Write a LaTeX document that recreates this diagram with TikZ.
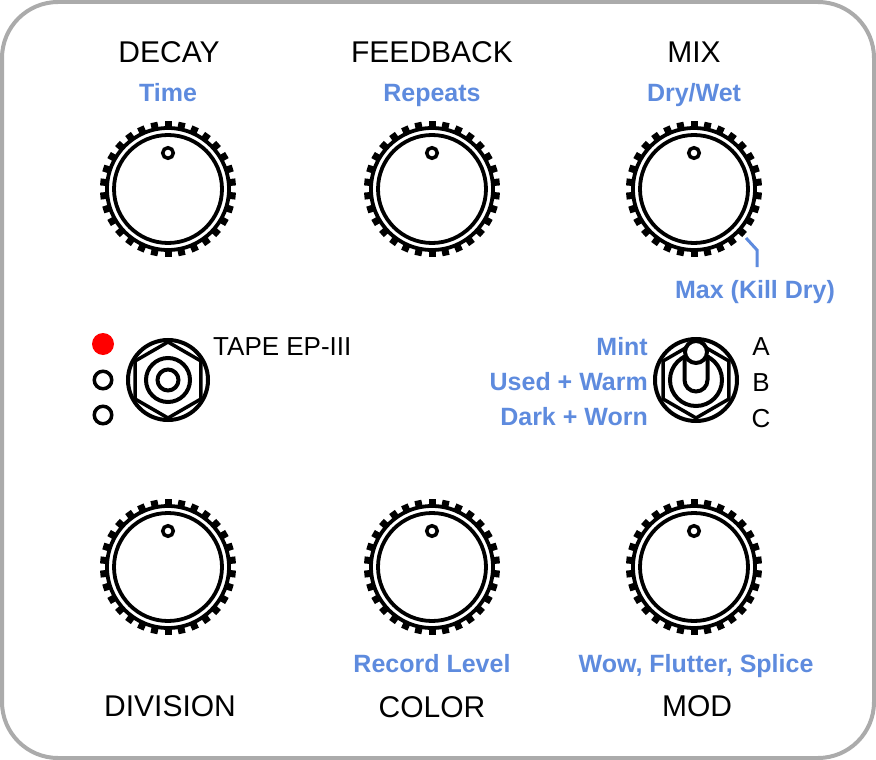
\documentclass[tikz,border=0pt]{standalone}
\usepackage{fontspec}
\setmainfont{Liberation Sans}
\newlength{\du}
\setlength{\du}{1pt}
\definecolor{panelgray}{RGB}{171,171,171}
\definecolor{labelblue}{RGB}{94,139,222}
\definecolor{ledred}{RGB}{255,0,0}
\tikzset{
  panelframe/.style={draw=panelgray, line width=4\du, rounded corners=56\du},
  knobring/.style={draw=black, line width=3.8\du},
  knobtooth/.style={draw=black, line width=7\du},
  knobdot/.style={draw=black, line width=3.5\du},
  partline/.style={draw=black, line width=4\du},
  hexnut/.style={draw=black, line width=3.5\du, line join=miter},
  ledon/.style={circle, fill=ledred, inner sep=0pt, minimum size=22\du},
  ledoff/.style={circle, draw=black, line width=3.5\du, inner sep=0pt, minimum size=17.5\du},
  namelabel/.style={inner sep=0pt, anchor=base, text=black, font=\fontsize{30}{32}\selectfont},
  sublabel/.style={inner sep=0pt, anchor=base, text=labelblue, font=\fontsize{25}{28}\selectfont\bfseries},
  smalllabel/.style={inner sep=0pt, anchor=base, text=black, font=\fontsize{26}{28}\selectfont},
  leader/.style={draw=labelblue, line width=3\du},
}
\begin{document}
\begin{tikzpicture}
\pgftransformxscale{1.000000}
\pgftransformyscale{-1.000000}
\useasboundingbox (0\du,0\du) rectangle (876\du,760\du);
% panel
\draw[panelframe] (2\du,2\du) rectangle (874\du,758\du);
% knobs
\foreach \knobname/\kx/\ky in {decay/168/189, feedback/432/189, mix/694/189, division/168/567, color/432/567, mod/694/567}{
\coordinate (\knobname knob) at (\kx\du,\ky\du);
\begin{scope}[shift={(\kx\du,\ky\du)}]
\foreach \a in {0,12,...,348}
  \draw[knobtooth] (90+\a:61\du) -- (90+\a:68\du);
\draw[knobring] (0\du,0\du) circle (61\du);
\draw[knobring] (0\du,0\du) circle (54\du);
\draw[knobdot] (0\du,-36\du) circle (5.3\du);
\end{scope}
}
% top labels
\node[namelabel] (decaylabel) at (169\du,63\du) {DECAY};
\node[namelabel] (feedbacklabel) at (432\du,63\du) {FEEDBACK};
\node[namelabel] (mixlabel) at (694\du,63\du) {MIX};
\node[sublabel] (timelabel) at (168\du,102\du) {Time};
\node[sublabel] (repeatslabel) at (432\du,102\du) {Repeats};
\node[sublabel] (drywetlabel) at (694\du,102\du) {Dry/Wet};
% max marker
\node[sublabel] (maxlabel) at (755\du,298\du) {Max (Kill Dry)};
\coordinate (maxstart) at (746\du,238\du);
\coordinate (maxbend) at (757\du,250\du);
\coordinate (maxend) at (757\du,267\du);
\draw[leader] (maxstart) -- (maxbend) -- (maxend);
% leds
\node[ledon] (ledone) at (103\du,344\du) {};
\node[ledoff] (ledtwo) at (103\du,380\du) {};
\node[ledoff] (ledthree) at (103\du,415\du) {};
% footswitch
\coordinate (footswitch) at (168\du,380\du);
\begin{scope}[shift={(168\du,380\du)}]
\draw[partline] (0\du,0\du) circle (40\du);
\draw[hexnut] (90:38\du) -- (150:38\du) -- (210:38\du) -- (270:38\du) -- (330:38\du) -- (30:38\du) -- cycle;
\draw[partline] (0\du,0\du) circle (22\du);
\draw[partline] (0\du,0\du) circle (10.5\du);
\end{scope}
\node[smalllabel, anchor=base west] (tapelabel) at (213\du,355\du) {TAPE EP-III};
% toggle
\coordinate (toggle) at (696\du,380\du);
\begin{scope}[shift={(696\du,380\du)}]
\draw[partline] (0\du,0\du) circle (41\du);
\draw[hexnut] (90:38\du) -- (150:38\du) -- (210:38\du) -- (270:38\du) -- (330:38\du) -- (30:38\du) -- cycle;
\draw[partline] (0\du,0\du) circle (26\du);
\draw[partline] (-11.5\du,-25\du) -- (-11.5\du,0\du) arc[start angle=180, end angle=0, radius=11.5\du] -- (11.5\du,-25\du);
\draw[partline, fill=white] (0\du,-28\du) circle (11\du);
\end{scope}
\node[sublabel, anchor=base east] (mintlabel) at (648\du,355\du) {Mint};
\node[sublabel, anchor=base east] (usedlabel) at (648\du,390\du) {Used + Warm};
\node[sublabel, anchor=base east] (darklabel) at (648\du,425\du) {Dark + Worn};
\node[smalllabel] (alabel) at (761\du,355\du) {A};
\node[smalllabel] (blabel) at (761\du,391\du) {B};
\node[smalllabel] (clabel) at (761\du,427\du) {C};
% bottom labels
\node[sublabel] (recordlabel) at (432\du,672\du) {Record Level};
\node[sublabel] (wowlabel) at (696\du,672\du) {Wow, Flutter, Splice};
\node[namelabel] (divisionlabel) at (170\du,716\du) {DIVISION};
\node[namelabel] (colorlabel) at (432\du,717\du) {COLOR};
\node[namelabel] (modlabel) at (697\du,716\du) {MOD};
\end{tikzpicture}
\end{document}
